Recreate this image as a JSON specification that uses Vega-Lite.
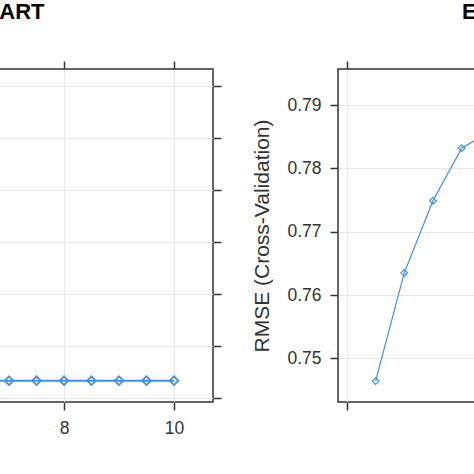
{
  "$schema": "https://vega.github.io/schema/vega-lite/v6.json",
  "padding": {"left": -180, "right": -42, "top": 0, "bottom": 0},
  "background": "white",
  "spacing": 28,
  "datasets": {
    "cart": [
      {"x": 6.5, "rmse": 0.8033}, {"x": 7, "rmse": 0.8033}, {"x": 7.5, "rmse": 0.8033},
      {"x": 8, "rmse": 0.8033}, {"x": 8.5, "rmse": 0.8033}, {"x": 9, "rmse": 0.8033},
      {"x": 9.5, "rmse": 0.8033}, {"x": 10, "rmse": 0.8033}
    ],
    "enet": [
      {"x": 1, "rmse": 0.7464}, {"x": 2, "rmse": 0.7635}, {"x": 3, "rmse": 0.7749},
      {"x": 4, "rmse": 0.7832}, {"x": 5, "rmse": 0.7858}
    ]
  },
  "hconcat": [
    {
      "width": 392, "height": 333,
      "title": {"text": "CART", "anchor": "middle", "frame": "group", "dx": -3},
      "data": {"name": "cart"},
      "layer": [
        {
          "mark": {"type": "line", "color": "#3f8fe8", "strokeWidth": 2, "clip": true},
          "encoding": {
            "x": {"field": "x", "type": "quantitative", "scale": {"domain": [3.58, 10.71], "nice": false, "zero": false},
                  "axis": {"orient": "bottom", "values": [4, 6, 8, 10], "grid": true, "title": null}},
            "y": {"field": "rmse", "type": "quantitative", "scale": {"domain": [0.7992, 0.8633], "nice": false, "zero": false},
                  "axis": {"orient": "right", "values": [0.80, 0.81, 0.82, 0.83, 0.84, 0.85, 0.86], "labels": false, "grid": true, "title": null}}
          }
        },
        {
          "mark": {"type": "point", "shape": "diamond", "filled": false, "color": "#3f8fe8", "size": 75, "strokeWidth": 1.8, "opacity": 1, "clip": true},
          "encoding": {
            "x": {"field": "x", "type": "quantitative", "scale": {"domain": [3.58, 10.71], "nice": false, "zero": false},
                  "axis": {"orient": "top", "values": [4, 6, 8, 10], "labels": false, "grid": false, "title": null}},
            "y": {"field": "rmse", "type": "quantitative", "scale": {"domain": [0.7992, 0.8633], "nice": false, "zero": false}, "axis": null}
          }
        }
      ],
      "resolve": {"axis": {"x": "independent", "y": "independent"}}
    },
    {
      "width": 140, "height": 333,
      "title": {"text": "ENET", "anchor": "start", "frame": "group", "dx": 124},
      "data": {"name": "enet"},
      "layer": [
        {
          "mark": {"type": "line", "color": "#3f8fe8", "strokeWidth": 1.2, "clip": true},
          "encoding": {
            "x": {"field": "x", "type": "quantitative", "scale": {"domain": [-0.31, 4.57], "nice": false, "zero": false},
                  "axis": {"orient": "bottom", "values": [0, 5, 10], "labels": false, "grid": true, "title": null}},
            "y": {"field": "rmse", "type": "quantitative", "scale": {"domain": [0.7431, 0.7957], "nice": false, "zero": false},
                  "axis": {"orient": "left", "values": [0.75, 0.76, 0.77, 0.78, 0.79], "format": ".2f", "grid": true, "title": "RMSE (Cross-Validation)", "titlePadding": 14}}
          }
        },
        {
          "mark": {"type": "point", "shape": "diamond", "filled": false, "color": "#3f8fe8", "size": 45, "strokeWidth": 1.2, "opacity": 1, "clip": true},
          "encoding": {
            "x": {"field": "x", "type": "quantitative", "scale": {"domain": [-0.31, 4.57], "nice": false, "zero": false},
                  "axis": {"orient": "top", "values": [0, 5, 10], "labels": false, "grid": false, "title": null}},
            "y": {"field": "rmse", "type": "quantitative", "scale": {"domain": [0.7431, 0.7957], "nice": false, "zero": false}, "axis": null}
          }
        }
      ],
      "resolve": {"axis": {"x": "independent", "y": "independent"}}
    }
  ],
  "config": {
    "font": "Liberation Sans",
    "view": {"stroke": "#333333", "strokeWidth": 1.5},
    "axis": {
      "domain": false, "tickColor": "#333333", "tickSize": 8, "tickWidth": 1.5,
      "labelFont": "Liberation Sans", "labelFontSize": 17.5, "labelColor": "#333333", "labelPadding": 9,
      "gridColor": "#e6e6e6", "gridWidth": 1,
      "titleFont": "Liberation Sans", "titleFontSize": 21, "titleFontWeight": "normal", "titleColor": "#333333"
    },
    "title": {"font": "Liberation Sans", "fontSize": 22, "fontWeight": "bold", "color": "#000000", "offset": 36}
  }
}
